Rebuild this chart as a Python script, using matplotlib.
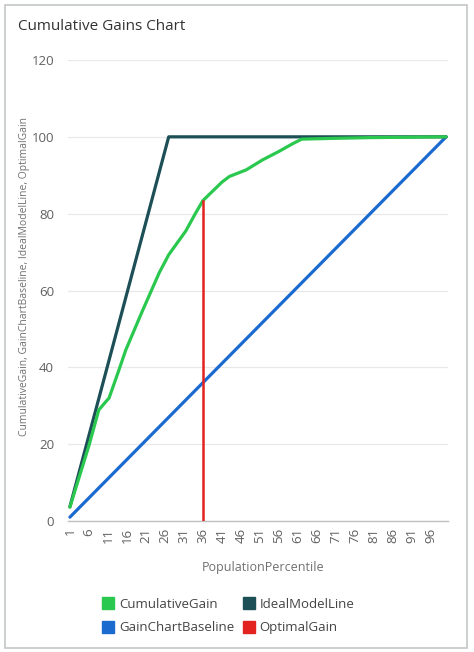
import matplotlib
matplotlib.use("Agg")
import matplotlib.pyplot as plt
from matplotlib.lines import Line2D
from matplotlib.patches import Rectangle

# ---- data ----
percentile_ticks = list(range(1, 100, 5))
gain_x = [1, 4, 6, 8.6, 10.4, 11.3, 13.9, 15.7, 20, 24.5, 27, 31.5, 34, 36, 38.5, 41, 43, 47.4, 51.7, 56, 59.6, 62, 70, 80, 90, 100]
gain_y = [3.6, 13.2, 19.6, 28.9, 31, 32, 39.3, 44.5, 54.5, 64.6, 69.3, 75.5, 80, 83.4, 85.8, 88.2, 89.7, 91.4, 94, 96.2, 98.2, 99.4, 99.6, 99.8, 99.9, 100]
ideal_x = [1, 27, 100]
ideal_y = [3.7, 100, 100]
base_x = [1, 100]
base_y = [1, 100]
optimal_x = 36
optimal_y = 83.4
series_names = ["CumulativeGain", "IdealModelLine", "GainChartBaseline", "OptimalGain"]

W, H = 474, 652
fig = plt.figure(figsize=(W / 100, H / 100), dpi=100)
plt.rcParams['font.family'] = ['Open Sans', 'DejaVu Sans']

C_GREEN = "#2ac84e"
C_TEAL = "#1d4f56"
C_BLUE = "#1a6ad0"
C_RED = "#e2231f"

# frame
fig.patches.append(Rectangle((5 / W, 1 - 648 / H), 462 / W, 643 / H, transform=fig.transFigure,
                             fill=False, edgecolor="#c4c8c4", linewidth=1.2))

ax = fig.add_axes([68 / W, 1 - 521 / H, (448 - 68) / W, (521 - 60) / H])
ax.set_xlim(0.5, 100.5)
ax.set_ylim(0, 120)

ax.plot(base_x, base_y, color=C_BLUE, lw=2.3, solid_capstyle="round", zorder=3)
ax.plot(ideal_x, ideal_y, color=C_TEAL, lw=2.3, solid_capstyle="round", zorder=4)
ax.plot(gain_x, gain_y, color=C_GREEN, lw=2.3, solid_capstyle="round", zorder=5)
ax.plot([optimal_x, optimal_x], [0, optimal_y], color=C_RED, lw=1.8, zorder=6)

ax.set_yticks([0, 20, 40, 60, 80, 100, 120])
ax.set_xticks(percentile_ticks)
ax.set_xticklabels([str(t) for t in percentile_ticks], rotation=90, fontsize=9.5, color="#606060")
ax.tick_params(axis="y", labelsize=9.5, colors="#606060", length=0, pad=10)
ax.tick_params(axis="x", length=0, pad=5)
ax.grid(axis="y", color="#e8e8e8", lw=0.9, zorder=0)
for s in ["top", "right", "left"]:
    ax.spines[s].set_visible(False)
ax.spines["bottom"].set_color("#c0c0c0")
ax.spines["bottom"].set_linewidth(1.0)
ax.spines["bottom"].set_zorder(2)

fig.text(18 / W, 1 - 27 / H, "Cumulative Gains Chart", fontsize=11, color="#333333", va="center", ha="left")
fig.text(25 / W, 1 - 276 / H, "CumulativeGain, GainChartBaseline, IdealModelLine, OptimalGain",
         rotation=90, fontsize=7.5, color="#707070", ha="center", va="center")
fig.text(263 / W, 1 - 568 / H, "PopulationPercentile", fontsize=9, color="#707070", ha="center", va="center")

colors = {"CumulativeGain": C_GREEN, "IdealModelLine": C_TEAL, "GainChartBaseline": C_BLUE, "OptimalGain": C_RED}
legend_order = [series_names[0], series_names[2], series_names[1], series_names[3]]
handles = [Line2D([], [], marker="s", linestyle="none", markersize=9, color=colors[n]) for n in legend_order]
fig.legend(handles, legend_order, loc="center", bbox_to_anchor=(228 / W, 1 - 616 / H), ncol=2,
           frameon=False, fontsize=9.5, handletextpad=0.3, columnspacing=0.6, labelspacing=0.8,
           handlelength=1.0, labelcolor="#444444")

fig.savefig("out.png", dpi=100)
